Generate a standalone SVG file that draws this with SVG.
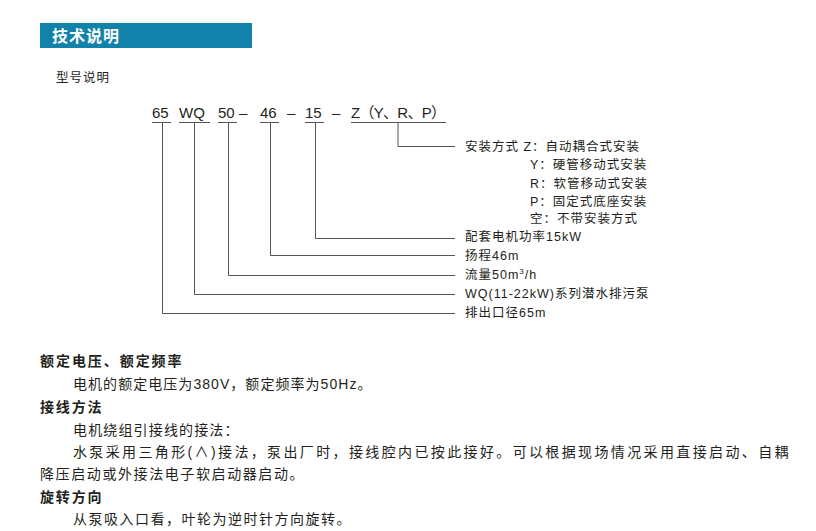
<svg xmlns="http://www.w3.org/2000/svg" width="816" height="531" viewBox="0 0 816 531">
<style>
.t{font-family:"Liberation Sans","Noto Sans CJK SC",sans-serif;fill:#231f20}
.c{font-size:15px}
.s{font-size:12.5px;letter-spacing:1px}
.b{font-size:14px;letter-spacing:1.5px}
.bb{font-weight:bold}
.ln{stroke:#555;stroke-width:1;fill:none}
</style>
<rect width="816" height="531" fill="#fff"/>
<g id="header">
<rect x="40" y="23" width="212" height="25" fill="#1282aa"/>
<text class="t bb" x="52" y="42" font-size="16" fill="#fff" style="fill:#fff" letter-spacing="1">技术说明</text>
</g>
<text class="t s" x="56" y="82" font-size="13">型号说明</text>
<g id="code">
<text class="t c" x="152" y="118">65</text>
<text class="t c" x="179" y="118">WQ</text>
<text class="t c" x="218" y="118">50</text>
<text class="t c" x="239" y="118">–</text>
<text class="t c" x="260" y="118">46</text>
<text class="t c" x="287" y="118">–</text>
<text class="t c" x="305" y="118">15</text>
<text class="t c" x="332" y="118">–</text>
<text class="t c" x="351" y="118" textLength="95">Z（Y、R、P）</text>
</g>
<g id="connectors" class="ln">
<path d="M152 122.5H171M179 122.5H210M218 122.5H237M260 122.5H279M305 122.5H324M351 122.5H446"/>
<path d="M398 122.5V146.5H455"/>
<path d="M315.5 122.5V238.5H455"/>
<path d="M270.5 122.5V255.5H455"/>
<path d="M228.5 122.5V275.5H455"/>
<path d="M194.5 122.5V294.5H455"/>
<path d="M162.5 122.5V313.5H455"/>
</g>
<g id="labels">
<text class="t s" x="465" y="151">安装方式  Z：自动耦合式安装</text>
<text class="t s" x="530" y="169">Y：硬管移动式安装</text>
<text class="t s" x="530" y="188">R：软管移动式安装</text>
<text class="t s" x="530" y="206">P：固定式底座安装</text>
<text class="t s" x="530" y="223">空：不带安装方式</text>
<text class="t s" x="465" y="241">配套电机功率15kW</text>
<text class="t s" x="465" y="260">扬程46m</text>
<text class="t s" x="465" y="279">流量50m<tspan font-size="8" dy="-5">3</tspan><tspan dy="5">/h</tspan></text>
<text class="t s" x="465" y="298">WQ(11-22kW)系列潜水排污泵</text>
<text class="t s" x="465" y="317">排出口径65m</text>
</g>
<g id="body">
<text class="t b bb" x="40" y="366" textLength="143">额定电压、额定频率</text>
<text class="t b" x="73" y="389" textLength="300">电机的额定电压为380V，额定频率为50Hz。</text>
<text class="t b bb" x="40" y="412" textLength="63">接线方法</text>
<text class="t b" x="73" y="435" textLength="167">电机绕组引接线的接法：</text>
<text class="t b" x="73" y="457" textLength="717">水泵采用三角形(∧)接法，泵出厂时，接线腔内已按此接好。可以根据现场情况采用直接启动、自耦</text>
<text class="t b" x="40" y="479" textLength="265">降压启动或外接法电子软启动器启动。</text>
<text class="t b bb" x="40" y="502" textLength="63">旋转方向</text>
<text class="t b" x="73" y="524" textLength="279">从泵吸入口看，叶轮为逆时针方向旋转。</text>
</g>
</svg>
